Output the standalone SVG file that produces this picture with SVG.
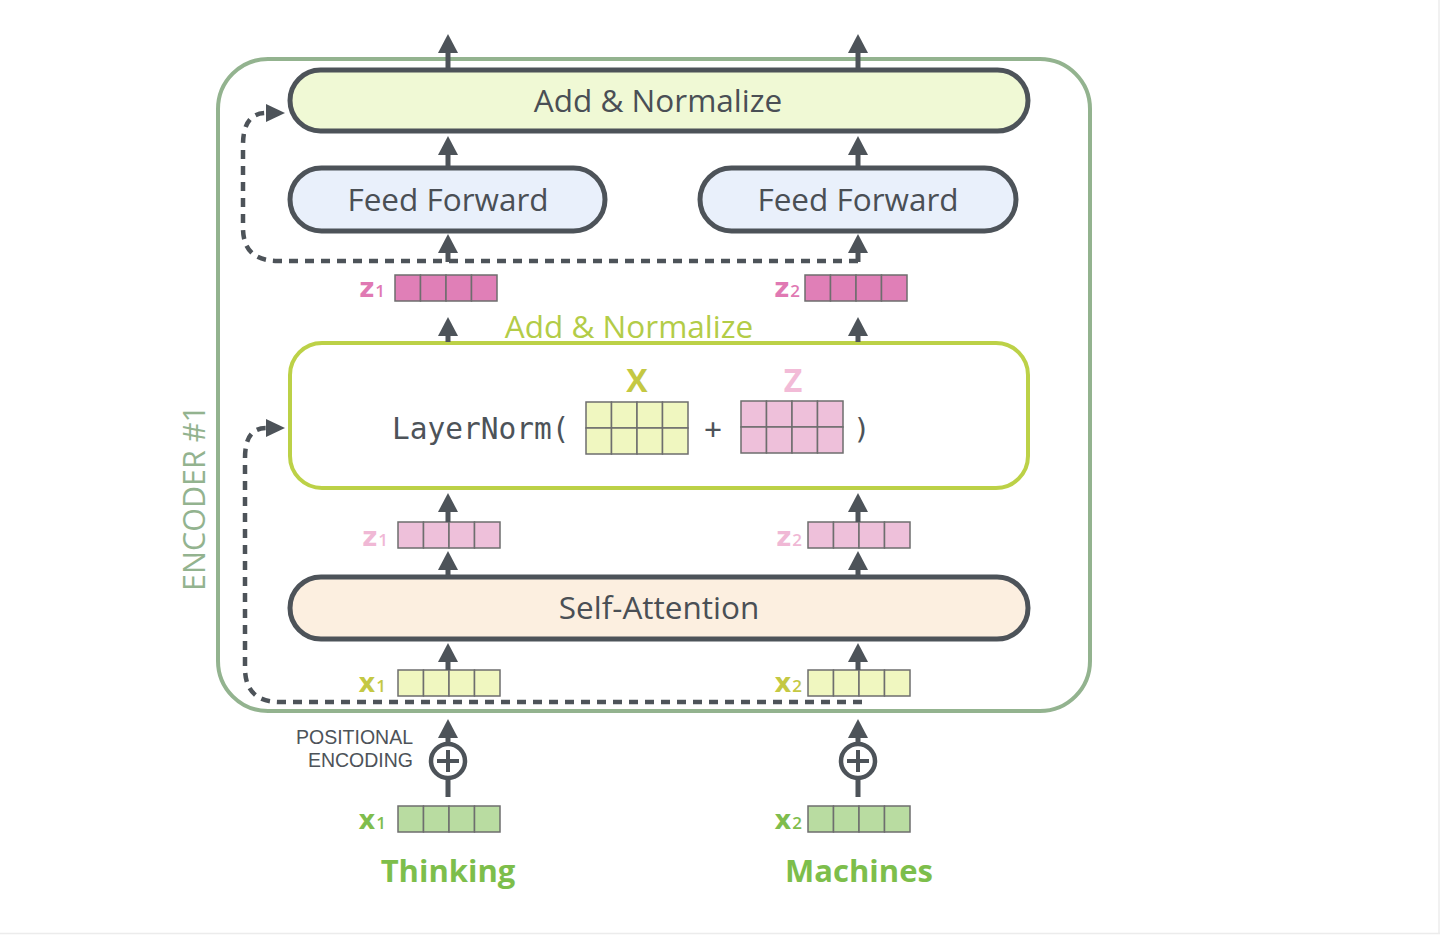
<svg xmlns="http://www.w3.org/2000/svg" width="1440" height="935" viewBox="0 0 1440 935">
<style>
.t{font-family:"Open Sans","Liberation Sans",sans-serif;}
.pill{stroke:#4d5359;stroke-width:5;}
.lbl{font-family:"Open Sans","Liberation Sans",sans-serif;font-size:31.5px;font-weight:500;fill:#4a4f55;text-anchor:middle;}
.arr{stroke:#4d5359;stroke-width:5;fill:none;marker-end:url(#ah);}
.dash{stroke:#4d5359;stroke-width:4.5;fill:none;stroke-dasharray:9 7;marker-end:url(#ahd);}
.cell{stroke:#6e6e6e;stroke-width:1.5;}
.zd{fill:#e07fb7;} .zl{fill:#eec0da;} .xy{fill:#f0f7c0;} .xg{fill:#b9dca1;}
.sub{font-family:"DejaVu Sans","Open Sans",sans-serif;text-anchor:end;}
.sub .v{font-size:26px;font-weight:bold;}
.sub .n{font-family:"Open Sans","Liberation Sans",sans-serif;font-size:17px;font-weight:600;}
</style>
<defs>
<marker id="ah" markerUnits="userSpaceOnUse" markerWidth="20" markerHeight="20" viewBox="0 0 20 20" refX="2" refY="10" orient="auto">
<path d="M0,0 L19,10 L0,20 Z" fill="#4d5359"/>
</marker>
<marker id="ahd" markerUnits="userSpaceOnUse" markerWidth="20" markerHeight="20" viewBox="0 0 20 20" refX="2" refY="10" orient="auto">
<path d="M0,1 L19,10 L0,19 Z" fill="#4d5359"/>
</marker>
<g id="row4">
<rect x="0" y="0" width="25.5" height="26" class="cell"/>
<rect x="25.5" y="0" width="25.5" height="26" class="cell"/>
<rect x="51" y="0" width="25.5" height="26" class="cell"/>
<rect x="76.5" y="0" width="25.5" height="26" class="cell"/>
</g>
</defs>
<rect x="0" y="0" width="1440" height="935" fill="#ffffff"/>
<line x1="1439" y1="0" x2="1439" y2="934" stroke="#ececec" stroke-width="1.5"/>
<line x1="0" y1="933.5" x2="1440" y2="933.5" stroke="#ececec" stroke-width="1.5"/>

<g id="encoder">
<rect x="218" y="59" width="872" height="652" rx="50" fill="none" stroke="#93b38f" stroke-width="4"/>
<text class="t" transform="translate(205,498) rotate(-90)" font-size="30.5" fill="#93b38f" text-anchor="middle">ENCODER #1</text>
</g>

<g id="add-normalize-top">
<rect x="290" y="70" width="738" height="61" rx="30.5" class="pill" fill="#f0f9d5"/>
<text class="lbl" x="658" y="112">Add &amp; Normalize</text>
</g>
<g id="feed-forward-1">
<rect x="290" y="168" width="315" height="63" rx="31.5" class="pill" fill="#e9f0fb"/>
<text class="lbl" x="448" y="211">Feed Forward</text>
</g>
<g id="feed-forward-2">
<rect x="700" y="168" width="316" height="63" rx="31.5" class="pill" fill="#e9f0fb"/>
<text class="lbl" x="858" y="211">Feed Forward</text>
</g>

<g id="z1-dark">
<use href="#row4" x="395" y="275" class="zd"/>
<text class="sub" x="385" y="297" fill="#e079b3"><tspan class="v">z</tspan><tspan class="n" dx="1">1</tspan></text>
</g>
<g id="z2-dark">
<use href="#row4" x="805" y="275" class="zd"/>
<text class="sub" x="800" y="297" fill="#e079b3"><tspan class="v">z</tspan><tspan class="n" dx="1">2</tspan></text>
</g>

<g id="layernorm">
<text class="t" x="629" y="338" font-size="31.5" fill="#b3cc47" text-anchor="middle">Add &amp; Normalize</text>
<rect x="290" y="343" width="738" height="145" rx="32" fill="#ffffff" stroke="#bcd147" stroke-width="4"/>
<text x="392" y="439" font-family="DejaVu Sans Mono,Liberation Mono,monospace" font-size="29.5" fill="#4d5359">LayerNorm(</text>
<text class="t" x="637" y="392" font-size="32" font-weight="bold" fill="#c4c843" text-anchor="middle">X</text>
<use href="#row4" x="586" y="402" class="xy"/>
<use href="#row4" x="586" y="428" class="xy"/>
<text x="713" y="439" font-family="DejaVu Sans Mono,Liberation Mono,monospace" font-size="29" fill="#4d5359" text-anchor="middle">+</text>
<text class="t" x="793" y="392" font-size="32" font-weight="bold" fill="#f2bbd7" text-anchor="middle">Z</text>
<use href="#row4" x="741" y="401" class="zl"/>
<use href="#row4" x="741" y="427" class="zl"/>
<text x="853" y="439" font-family="DejaVu Sans Mono,Liberation Mono,monospace" font-size="29" fill="#4d5359">)</text>
</g>

<g id="z1-light">
<use href="#row4" x="398" y="522" class="zl"/>
<text class="sub" x="388" y="546" fill="#f0b8d5"><tspan class="v">z</tspan><tspan class="n" dx="1">1</tspan></text>
</g>
<g id="z2-light">
<use href="#row4" x="808" y="522" class="zl"/>
<text class="sub" x="802" y="546" fill="#f0b8d5"><tspan class="v">z</tspan><tspan class="n" dx="1">2</tspan></text>
</g>

<g id="self-attention">
<rect x="290" y="577" width="738" height="62" rx="31" class="pill" fill="#fcefe0"/>
<text class="lbl" x="659" y="619">Self-Attention</text>
</g>

<g id="x1-yellow">
<use href="#row4" x="398" y="670" class="xy"/>
<text class="sub" x="386" y="692" fill="#c4c843"><tspan class="v">x</tspan><tspan class="n" dx="1">1</tspan></text>
</g>
<g id="x2-yellow">
<use href="#row4" x="808" y="670" class="xy"/>
<text class="sub" x="802" y="692" fill="#c4c843"><tspan class="v">x</tspan><tspan class="n" dx="1">2</tspan></text>
</g>

<g id="positional-encoding">
<text x="413" y="744" font-family="Liberation Sans,Arial,sans-serif" font-size="19.5" fill="#4d5359" text-anchor="end">POSITIONAL</text>
<text x="413" y="767" font-family="Liberation Sans,Arial,sans-serif" font-size="19.5" fill="#4d5359" text-anchor="end">ENCODING</text>
</g>
<g id="plus-1">
<circle cx="448" cy="761" r="17" fill="#ffffff" stroke="#4d5359" stroke-width="4.5"/>
<path d="M437,761 H459 M448,750 V772" stroke="#4d5359" stroke-width="4"/>
</g>
<g id="plus-2">
<circle cx="858" cy="761" r="17" fill="#ffffff" stroke="#4d5359" stroke-width="4.5"/>
<path d="M847,761 H869 M858,750 V772" stroke="#4d5359" stroke-width="4"/>
</g>

<g id="x1-green">
<use href="#row4" x="398" y="806" class="xg"/>
<text class="sub" x="386" y="829" fill="#7fbd4d"><tspan class="v">x</tspan><tspan class="n" dx="1">1</tspan></text>
</g>
<g id="x2-green">
<use href="#row4" x="808" y="806" class="xg"/>
<text class="sub" x="802" y="829" fill="#7fbd4d"><tspan class="v">x</tspan><tspan class="n" dx="1">2</tspan></text>
</g>
<g id="word-thinking">
<text class="t" x="448" y="882" font-size="31" font-weight="bold" fill="#7dbe4b" text-anchor="middle">Thinking</text>
</g>
<g id="word-machines">
<text class="t" x="859" y="882" font-size="31" font-weight="bold" fill="#7dbe4b" text-anchor="middle">Machines</text>
</g>

<g id="connectors">
<path class="arr" d="M448,70 V51"/>
<path class="arr" d="M858,70 V51"/>
<path class="arr" d="M448,167 V153"/>
<path class="arr" d="M858,167 V153"/>
<path class="arr" d="M448,262 V251"/>
<path class="arr" d="M858,262 V251"/>
<path class="arr" d="M448,342 V334"/>
<path class="arr" d="M858,342 V334"/>
<path class="arr" d="M448,522 V510"/>
<path class="arr" d="M858,522 V510"/>
<path class="arr" d="M448,577 V568"/>
<path class="arr" d="M858,577 V568"/>
<path class="arr" d="M448,670 V660"/>
<path class="arr" d="M858,670 V660"/>
<path class="arr" d="M448,744 V736"/>
<path class="arr" d="M858,744 V736"/>
<path d="M448,797 V778 M858,797 V778" stroke="#4d5359" stroke-width="5" fill="none"/>
<path class="dash" d="M858,261 H278 Q243,261 243,228 V145 Q243,113 266,113 L268,113"/>
<path class="dash" d="M862,702 H280 Q245,702 245,668 V458 Q245,428 266,428 L268,428"/>
</g>
</svg>
